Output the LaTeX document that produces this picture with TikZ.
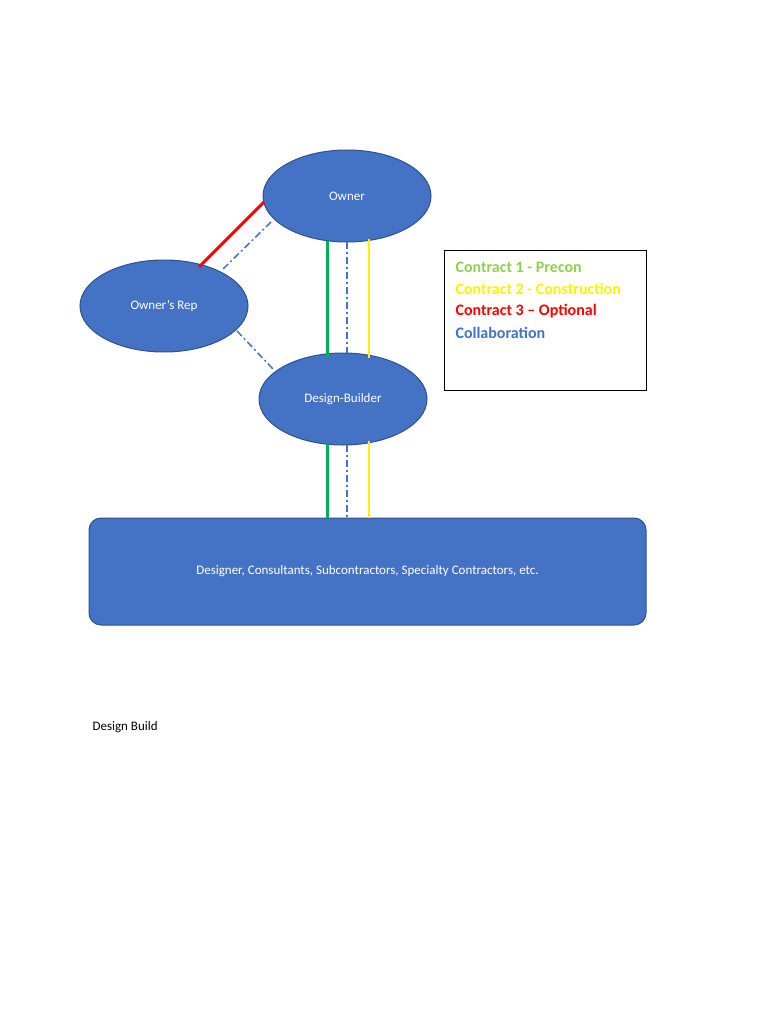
\documentclass[tikz,border=0pt]{standalone}
\usepackage{fontspec}
\setmainfont{Carlito}
\definecolor{bfill}{HTML}{4472C4}
\definecolor{bdraw}{HTML}{2F528F}
\definecolor{lgreen}{HTML}{92D050}
\definecolor{dgreen}{HTML}{00B050}
\begin{document}
\begin{tikzpicture}[x=1pt,y=-1pt,
  ell/.style={ellipse,fill=bfill,draw=bdraw,line width=1pt,minimum width=168pt,minimum height=92pt,text=white,font=\fontsize{13}{15}\selectfont,inner sep=0pt},
  gline/.style={dgreen,line width=3pt},
  yline/.style={yellow,line width=2.5pt},
  rline/.style={red,line width=3pt},
  cline/.style={bfill,line width=1.5pt,dash pattern=on 7pt off 3pt on 2pt off 3pt}]
\usetikzlibrary{shapes.geometric}
\fill[white] (0,0) rectangle (768,1024);
\useasboundingbox (0,0) rectangle (768,1024);
\node[ell] (owner) at (347,196) {Owner};
\node[ell] (rep) at (164,306) {Owner’s Rep};
\node[ell] (db) at (343,399) {Design-Builder};
\node[draw=bdraw,fill=bfill,line width=1pt,rounded corners=12pt,minimum width=557pt,minimum height=107pt,text=white,font=\fontsize{13}{15}\selectfont,inner sep=0pt] (sub) at (367.5,571.5) {Designer, Consultants, Subcontractors, Specialty Contractors, etc.};
\node[draw=black,line width=0.8pt,minimum width=202pt,minimum height=140pt,inner sep=0pt] (legend) at (545,320) {};
\begin{scope}[font=\bfseries\fontsize{16}{18}\selectfont,anchor=west]
\node[text=lgreen,anchor=west] (l1) at (452,267) {Contract 1 - Precon};
\node[text=yellow,anchor=west] (l2) at (452,289) {Contract 2 - Construction};
\node[text=red,anchor=west] (l3) at (452,311) {Contract 3 – Optional};
\node[text=bfill,anchor=west] (l4) at (452,333) {Collaboration};
\end{scope}
\node[anchor=west,font=\fontsize{13}{15}\selectfont] (title) at (89,727) {Design Build};
% connectors
\coordinate (o1) at (327,241); \coordinate (o2) at (347,242); \coordinate (o3) at (369,239);
\coordinate (d1) at (327,357); \coordinate (d2) at (347,353); \coordinate (d3) at (369,358);
\coordinate (e1) at (327,444); \coordinate (e2) at (347,445); \coordinate (e3) at (369,441);
\coordinate (s1) at (327,518); \coordinate (s2) at (347,518); \coordinate (s3) at (369,518);
\draw[gline] (o1) -- (d1);
\draw[cline] (o2) -- (d2);
\draw[yline] (o3) -- (d3);
\draw[gline] (e1) -- (s1);
\draw[cline] (e2) -- (s2);
\draw[yline] (e3) -- (s3);
\coordinate (or1) at (264,202); \coordinate (rr1) at (199,267);
\draw[rline] (or1) -- (rr1);
\coordinate (or2) at (271,222); \coordinate (rr2) at (222,270);
\draw[cline] (or2) -- (rr2);
\coordinate (rd1) at (237,331); \coordinate (rd2) at (273,369);
\draw[cline] (rd1) -- (rd2);
\end{tikzpicture}
\end{document}
